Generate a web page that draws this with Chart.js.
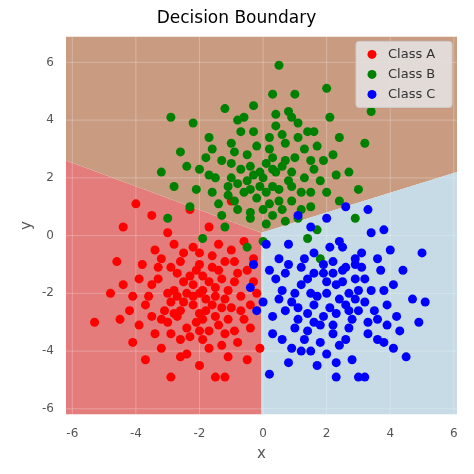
<!DOCTYPE html>
<html>
<head>
<meta charset="utf-8">
<script src="https://cdn.jsdelivr.net/npm/chart.js@4.4.0/dist/chart.umd.min.js"></script>
<style>
  html, body { margin: 0; padding: 0; background: #fff; }
  #wrap { width: 474px; height: 474px; }
</style>
</head>
<body>
<div id="wrap"><canvas id="chart"></canvas></div>
<script>
const classNames = ['Class A', 'Class B', 'Class C'];
const pointColors = ['#ff0000', '#008000', '#0000ff'];
const tickValues = [-6, -4, -2, 0, 2, 4, 6];

const classA = [[-2,-2],[-1.5,-1.8],[-2.5,-2.3],[-1.8,-2.6],[-2.3,-1.4],[-1.2,-2.2],[-2.8,-1.9],[-2.1,-3.0],[-1.6,-1.1],[-3.1,-2.6],[-0.9,-1.6],[-2.6,-0.9],[-1.4,-3.1],[-3.3,-1.5],[-0.7,-2.6],[-2.2,-0.4],[-3.6,-2.1],[-1.9,-3.6],[-0.5,-1.2],[-2.9,-3.4],[-1.0,-0.5],[-3.8,-1.0],[-1.3,-3.8],[-2.4,-4.1],[-0.4,-3.2],[-3.9,-3.1],[-4.4,-1.7],[-1.7,0.3],[-0.6,-0.2],[-3.0,0.1],[-4.2,-2.6],[-0.2,-2.0],[-2.7,-2.8],[-1.1,-2.9],[-2.0,-1.0],[-3.4,-0.5],[-1.6,-2.4],[-2.5,-1.6],[-1.9,-1.9],[-2.2,-2.4],[-1.3,-1.5],[-2.9,-2.3],[-3.2,-3.9],[-0.8,-3.7],[-4.6,-0.9],[-4.8,-2.0],[-5.3,-3.0],[-4.4,0.3],[-4.0,1.1],[-1.5,-4.9],[-2.9,-4.9],[-0.1,-3.9],[-1.2,-4.9],[-3.5,0.7],[-2.3,0.9],[-1.0,1.2],[-0.3,-0.8],[-4.5,-2.9],[-3.7,-4.3],[-2.0,-4.5],[-0.5,-4.3],[-4.1,-3.7],[-2.6,-3.6],[-1.7,-3.3],[-3.5,-2.8],[-0.9,-0.9],[-1.4,-0.3],[-2.8,-0.3],[-3.3,-1.1],[-0.3,-1.6]];
const classACore = [[-1.7,-1.6],[-2.4,-2.0],[-2.0,-2.7],[-1.5,-2.8],[-2.7,-1.3],[-1.1,-1.9],[-2.2,-1.7],[-1.8,-2.2],[-2.6,-2.6],[-1.3,-2.5],[-3.0,-2.0],[-2.1,-1.2],[-1.0,-2.5],[-2.4,-3.2],[-3.2,-2.9],[-1.6,-0.7],[-0.8,-1.3],[-2.9,-1.1],[-1.9,-2.9],[-2.5,-0.6],[-3.5,-1.7],[-0.7,-2.1],[-1.2,-3.4],[-3.7,-2.4],[-2.3,-3.5],[-1.4,-1.2],[-2.8,-2.7],[-1.7,-3.9],[-3.0,-3.0],[-0.6,-2.9],[-2.0,-0.6],[-3.9,-1.5],[-1.2,-0.9],[-2.6,-4.2],[-3.4,-3.4],[-0.9,-3.3],[-2.2,-2.1],[-1.5,-2.1],[-2.0,-3.3],[-3.2,-0.8],[-4.1,-2.1],[-1.9,-1.4],[-2.7,-2.1],[-0.4,-2.4],[-1.1,-4.2]];
const classB = [[0,2],[0.5,1.6],[-0.4,2.4],[0.3,2.7],[-0.6,1.5],[0.9,2.2],[-1.0,2.0],[0.2,1.1],[-0.2,3.1],[1.2,1.5],[-1.3,2.6],[0.7,3.2],[-0.8,0.9],[1.5,2.6],[-1.6,1.5],[0.1,0.4],[0.4,3.8],[-0.7,3.6],[1.8,1.9],[-2.0,2.3],[1.1,0.6],[-1.2,0.3],[2.2,2.8],[-2.3,1.0],[0.8,4.3],[-0.3,4.5],[1.6,3.6],[-1.7,3.4],[2.4,1.2],[-2.6,2.9],[0.0,-0.2],[-0.5,-0.4],[1.4,-0.1],[2.7,2.2],[-2.8,1.7],[1.0,4.9],[0.3,4.9],[-1.2,4.4],[2.1,4.1],[0.5,5.9],[2.0,5.1],[-2.9,4.1],[3.2,3.2],[3.4,4.3],[1.8,-0.8],[-1.9,-0.1],[2.9,0.6],[-3.0,0.6],[0.6,0.9],[-0.1,1.7],[0.4,2.2],[-0.9,2.9],[1.3,3.0],[-1.4,1.1],[0.9,1.2],[-0.4,0.8],[2.4,3.4],[-2.2,3.9],[1.7,0.2],[-0.8,4.0],[3.0,1.6],[-3.2,2.2],[1.1,3.9],[-1.7,2.1],[0.2,3.4],[0.7,2.6],[-0.5,1.9],[1.5,1.0],[-1.1,1.4],[0.3,0.7]];
const classBCore = [[0.3,1.7],[-0.3,2.1],[0.6,2.4],[-0.2,1.3],[0.9,1.7],[-0.7,2.3],[0.1,2.5],[0.5,1.2],[-0.5,2.8],[1.0,2.7],[-1.1,1.7],[0.2,3.0],[1.3,2.0],[-0.9,1.2],[0.7,0.5],[-0.3,3.6],[1.6,2.3],[-1.5,2.0],[0.1,1.5],[1.1,3.4],[-1.0,3.2],[1.9,2.6],[-1.8,2.7],[0.4,4.2],[-0.4,0.6],[2.0,1.5],[-2.1,1.6],[0.8,1.9],[-0.1,2.2],[1.4,3.6],[-0.6,4.1],[1.2,0.9],[-1.3,0.7],[0.6,3.5],[2.3,2.1],[-2.4,2.4],[0.0,0.9],[-0.8,1.8],[1.7,3.1],[-1.6,3.0],[0.9,4.1],[0.3,2.3],[-0.4,1.6],[1.5,1.5],[-1.0,2.5]];
const classC = [[2,-2],[2.5,-1.6],[1.6,-2.4],[2.3,-2.7],[1.4,-1.5],[2.9,-2.2],[1.0,-2.0],[2.2,-0.9],[1.8,-3.1],[3.2,-1.5],[0.7,-2.6],[2.7,-3.2],[1.2,-1.1],[3.5,-2.6],[0.4,-1.5],[2.1,-0.4],[2.4,-3.8],[1.3,-3.6],[3.8,-1.9],[0.0,-2.3],[3.1,-0.6],[0.8,-0.3],[4.2,-2.8],[-0.3,-1.0],[2.8,-4.3],[1.7,-4.5],[3.6,-3.6],[0.3,-3.4],[4.4,-1.2],[-0.2,-2.6],[2.0,0.6],[1.5,0.3],[3.4,0.1],[4.7,-2.2],[0.1,-0.3],[3.0,-4.9],[2.3,-4.9],[0.8,-4.4],[4.1,-3.9],[0.2,-4.8],[5.0,-0.6],[4.5,-4.2],[3.2,-4.9],[5.1,-2.3],[3.8,0.2],[1.1,0.7],[2.6,1.0],[3.3,0.9],[2.6,-1.1],[1.9,-1.3],[2.4,-2.2],[1.1,-2.9],[3.3,-3.0],[0.6,-1.9],[2.9,-1.0],[1.6,-0.6],[4.0,-0.5],[0.9,-3.9],[3.7,-1.2],[1.2,-4.0],[4.9,-3.0],[-0.4,-1.8],[3.9,-3.1],[0.5,-0.8],[2.2,-3.4],[2.7,-2.6],[1.5,-2.0],[3.0,-1.9],[1.9,-2.8],[2.5,-0.4]];
const classCCore = [[2.3,-1.7],[1.7,-2.1],[2.6,-2.4],[1.4,-2.7],[2.9,-1.5],[1.2,-1.7],[2.1,-2.5],[2.5,-1.2],[1.6,-3.0],[3.2,-2.3],[0.9,-2.3],[2.8,-2.9],[1.9,-1.0],[3.4,-1.9],[0.7,-1.3],[2.2,-3.1],[1.3,-0.8],[3.6,-2.9],[1.0,-3.2],[2.6,-3.6],[3.1,-1.1],[0.5,-2.2],[3.9,-2.4],[1.8,-3.7],[2.9,-0.8],[0.8,-1.0],[2.0,-4.1],[3.3,-3.4],[0.3,-2.8],[4.1,-1.7],[1.5,-4.0],[2.4,-0.2],[3.6,-0.8],[0.2,-1.2],[4.3,-3.3],[1.1,-2.5],[2.0,-1.6],[2.7,-2.0],[1.6,-1.3],[3.0,-2.6],[1.4,-3.3],[2.3,-4.4],[3.8,-3.7],[0.6,-3.6],[2.2,-1.3]];

// decision regions as polygons in data coordinates
const regionA = [[-6.2,-6.2],[-6.2,2.6],[-0.05,0.1],[-0.05,-6.2]];
const regionB = [[-6.2,2.6],[-6.2,6.9],[6.1,6.9],[6.1,2.2],[-0.05,0.1]];
const regionC = [[-0.05,-6.2],[-0.05,0.1],[6.1,2.2],[6.1,-6.2]];
const regionColors = ['#e47c7c', '#c99c82', '#c6dbe5'];

const toXY = arr => arr.map(p => ({x: p[0], y: p[1]}));

const regionsPlugin = {
  id: 'regions',
  beforeDatasetsDraw(chart) {
    const {ctx, chartArea, scales: {x, y}} = chart;
    ctx.save();
    ctx.beginPath();
    ctx.rect(chartArea.left, chartArea.top, chartArea.width, chartArea.height);
    ctx.clip();
    [regionA, regionB, regionC].forEach((poly, i) => {
      ctx.beginPath();
      poly.forEach((p, j) => {
        const px = x.getPixelForValue(p[0]), py = y.getPixelForValue(p[1]);
        j ? ctx.lineTo(px, py) : ctx.moveTo(px, py);
      });
      ctx.closePath();
      ctx.fillStyle = regionColors[i];
      ctx.fill();
    });
    // faint grid on top of the regions
    ctx.strokeStyle = 'rgba(255,255,255,0.25)';
    ctx.lineWidth = 1;
    tickValues.forEach(v => {
      const px = x.getPixelForValue(v), py = y.getPixelForValue(v);
      ctx.beginPath(); ctx.moveTo(px, chartArea.top); ctx.lineTo(px, chartArea.bottom); ctx.stroke();
      ctx.beginPath(); ctx.moveTo(chartArea.left, py); ctx.lineTo(chartArea.right, py); ctx.stroke();
    });
    ctx.restore();
  },
  afterDatasetsDraw(chart) {
    const {ctx, chartArea} = chart;
    const w = 96, h = 66, bx = chartArea.right - w - 5, by = chartArea.top + 5;
    ctx.save();
    ctx.fillStyle = 'rgba(229,229,229,0.85)';
    ctx.strokeStyle = '#cccccc';
    ctx.beginPath();
    ctx.roundRect(bx, by, w, h, 3);
    ctx.fill(); ctx.stroke();
    ctx.font = '13px "DejaVu Sans"';
    ctx.textBaseline = 'middle';
    classNames.forEach((name, i) => {
      const cy = by + 13 + i * 20;
      ctx.fillStyle = pointColors[i];
      ctx.beginPath(); ctx.arc(bx + 16, cy, 4.5, 0, Math.PI * 2); ctx.fill();
      ctx.fillStyle = '#333';
      ctx.fillText(name, bx + 32, cy);
    });
    ctx.restore();
  }
};

const axisCommon = {
  type: 'linear',
  grid: { display: false },
  border: { display: false },
  ticks: { color: '#555', font: { size: 12, family: 'DejaVu Sans' }, padding: 4 },
  afterBuildTicks(axis) { axis.ticks = tickValues.map(v => ({value: v})); }
};

new Chart(document.getElementById('chart'), {
  type: 'scatter',
  plugins: [regionsPlugin],
  data: {
    datasets: [classA.concat(classACore), classB.concat(classBCore), classC.concat(classCCore)].map((pts, i) => ({
      label: classNames[i],
      data: toXY(pts),
      backgroundColor: pointColors[i],
      borderWidth: 0,
      pointRadius: 4.5,
      order: 3 - i
    }))
  },
  options: {
    responsive: true,
    maintainAspectRatio: false,
    animation: false,
    layout: { padding: { left: 16, right: 17, top: 2, bottom: 11 } },
    plugins: {
      legend: { display: false },
      tooltip: { enabled: false },
      title: { display: true, text: 'Decision Boundary', color: '#000', font: { size: 17, weight: 'normal', family: 'DejaVu Sans' }, padding: { top: 6, bottom: 8 } }
    },
    scales: {
      x: { ...axisCommon, min: -6.2, max: 6.1,
        title: { display: true, text: 'x', color: '#555', font: { size: 15, family: 'DejaVu Sans' }, padding: 0 } },
      y: { ...axisCommon, min: -6.2, max: 6.9,
        title: { display: true, text: 'y', color: '#555', font: { size: 15, family: 'DejaVu Sans' }, padding: 2 } }
    }
  }
});
</script>
</body>
</html>
